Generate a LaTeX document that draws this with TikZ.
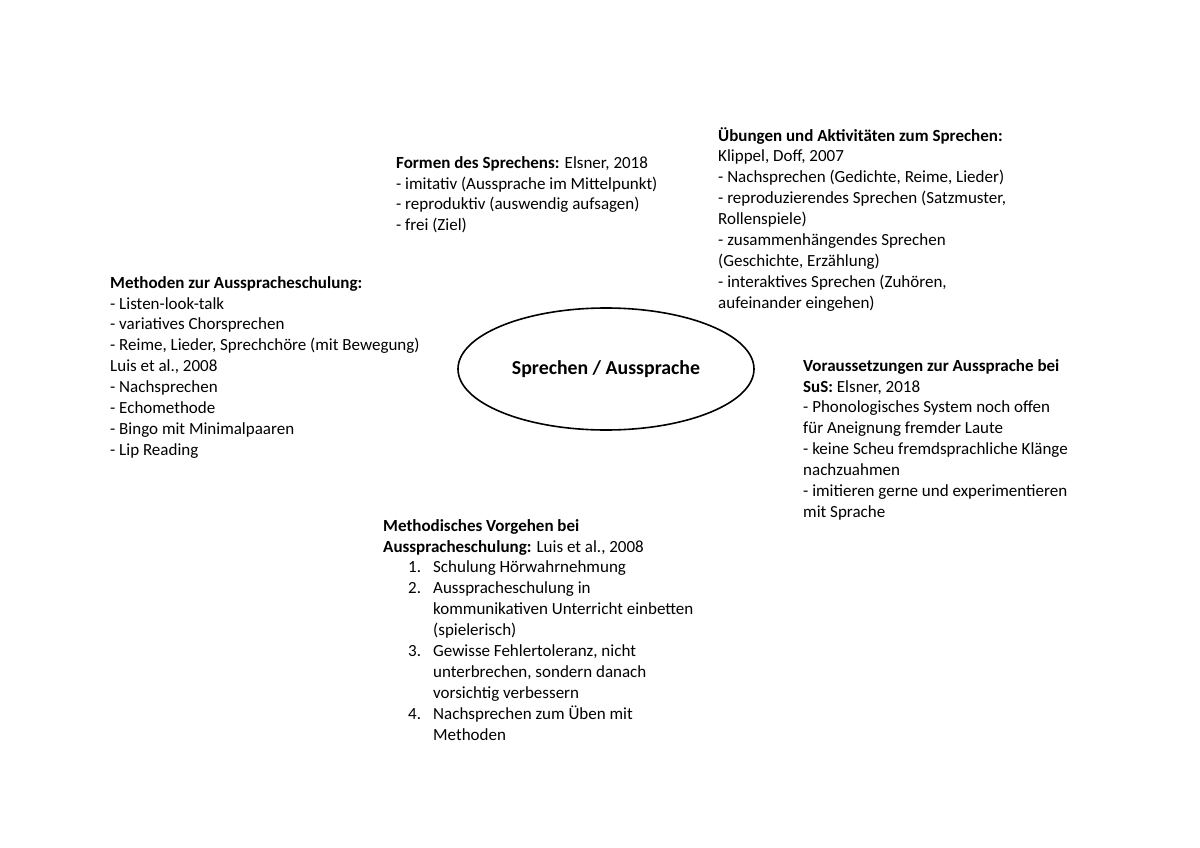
\documentclass[tikz,border=0pt]{standalone}
\usepackage{fontspec}
\setmainfont{Carlito}
\usetikzlibrary{shapes.geometric}
\tikzset{
  txt/.style={anchor=north west, inner sep=0pt, align=left, font=\fontsize{17}{20.9}\selectfont},
  hub/.style={draw, ellipse, line width=1.6pt, minimum width=296pt, minimum height=122pt, inner sep=0pt, font=\fontsize{19.8}{24}\selectfont\bfseries}
}
\newcommand{\numit}[2]{\hspace*{25pt}\makebox[25pt][l]{#1}#2}
\newcommand{\contit}[1]{\hspace*{50pt}#1}
\begin{document}
\begin{tikzpicture}[x=1pt,y=-1pt]
\useasboundingbox (0,0) rectangle (1200,848);
\node[hub] (hub) at (606,369) {Sprechen / Aussprache};
\node[txt] (formen) at (396,156) {\textbf{Formen des Sprechens:} Elsner, 2018\\
- imitativ (Aussprache im Mittelpunkt)\\
- reproduktiv (auswendig aufsagen)\\
- frei (Ziel)};
\node[txt] (uebungen) at (718,127) {\textbf{Übungen und Aktivitäten zum Sprechen:}\\
Klippel, Doff, 2007\\
- Nachsprechen (Gedichte, Reime, Lieder)\\
- reproduzierendes Sprechen (Satzmuster,\\
Rollenspiele)\\
- zusammenhängendes Sprechen\\
(Geschichte, Erzählung)\\
- interaktives Sprechen (Zuhören,\\
aufeinander eingehen)};
\node[txt] (methoden) at (110,276) {\textbf{Methoden zur Ausspracheschulung:}\\
- Listen-look-talk\\
- variatives Chorsprechen\\
- Reime, Lieder, Sprechchöre (mit Bewegung)\\
Luis et al., 2008\\
- Nachsprechen\\
- Echomethode\\
- Bingo mit Minimalpaaren\\
- Lip Reading};
\node[txt] (voraus) at (803,359) {\textbf{Voraussetzungen zur Aussprache bei}\\
\textbf{SuS:} Elsner, 2018\\
- Phonologisches System noch offen\\
für Aneignung fremder Laute\\
- keine Scheu fremdsprachliche Klänge\\
nachzuahmen\\
- imitieren gerne und experimentieren\\
mit Sprache};
\node[txt] (vorgehen) at (383,519) {\textbf{Methodisches Vorgehen bei}\\
\textbf{Ausspracheschulung:} Luis et al., 2008\\
\numit{1.}{Schulung Hörwahrnehmung}\\
\numit{2.}{Ausspracheschulung in}\\
\contit{kommunikativen Unterricht einbetten}\\
\contit{(spielerisch)}\\
\numit{3.}{Gewisse Fehlertoleranz, nicht}\\
\contit{unterbrechen, sondern danach}\\
\contit{vorsichtig verbessern}\\
\numit{4.}{Nachsprechen zum Üben mit}\\
\contit{Methoden}};
\end{tikzpicture}
\end{document}
